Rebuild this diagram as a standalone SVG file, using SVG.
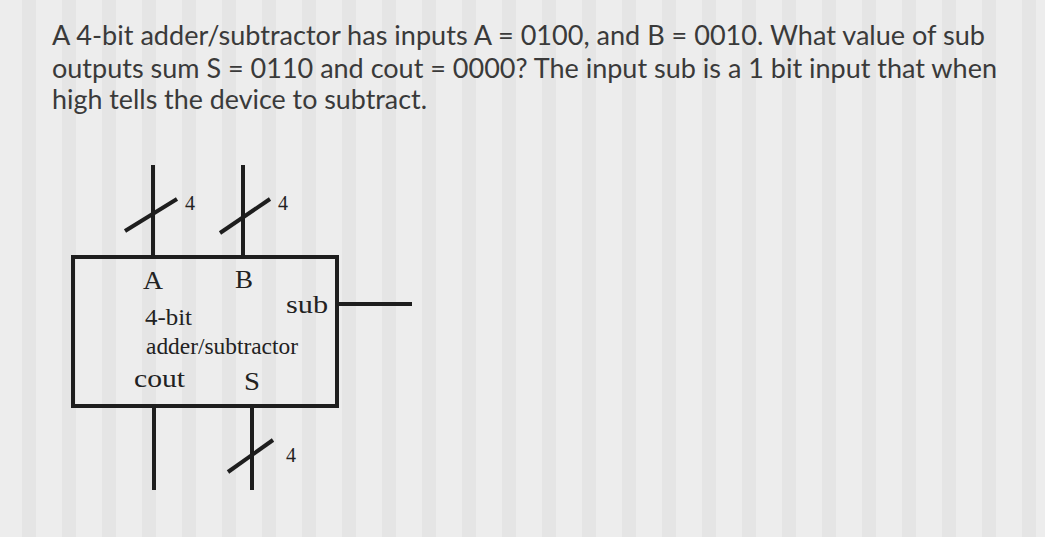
<svg xmlns="http://www.w3.org/2000/svg" width="1045" height="537" viewBox="0 0 1045 537">
<style>
.q{font-family:Lato,"Open Sans",sans-serif;font-size:26px;fill:#3a3a3a}
.t{font-family:"Liberation Serif",serif;fill:#222}
.w{stroke:#1e1e1e;stroke-width:4;fill:none}
</style>
<defs><pattern id="st" width="40" height="537" patternUnits="userSpaceOnUse"><rect width="40" height="537" fill="#ededed"/><rect x="22" width="14" height="537" fill="#e5e5e5"/></pattern></defs>
<rect width="1045" height="537" fill="url(#st)"/>
<text class="q" x="52" y="45" textLength="933" lengthAdjust="spacingAndGlyphs">A 4-bit adder/subtractor has inputs A = 0100, and B = 0010.  What value of sub</text>
<text class="q" x="52" y="78" textLength="945" lengthAdjust="spacingAndGlyphs">outputs sum S = 0110 and cout = 0000?  The input sub is a 1 bit input that when</text>
<text class="q" x="52" y="109" textLength="375" lengthAdjust="spacingAndGlyphs">high tells the device to subtract.</text>
<g id="adder">
<rect class="w" x="73" y="257" width="264" height="149" fill="#f0f0f0"/>
<text class="t" x="143" y="289" font-size="26" textLength="20" lengthAdjust="spacingAndGlyphs">A</text>
<text class="t" x="235" y="288" font-size="26" textLength="18" lengthAdjust="spacingAndGlyphs">B</text>
<text class="t" x="286" y="313" font-size="26" textLength="42" lengthAdjust="spacingAndGlyphs">sub</text>
<text class="t" x="145" y="325" font-size="23" textLength="47" lengthAdjust="spacingAndGlyphs">4-bit</text>
<text class="t" x="146" y="354" font-size="24" textLength="152" lengthAdjust="spacingAndGlyphs">adder/subtractor</text>
<text class="t" x="134" y="387" font-size="26" textLength="51" lengthAdjust="spacingAndGlyphs">cout</text>
<text class="t" x="244" y="390" font-size="26" textLength="16" lengthAdjust="spacingAndGlyphs">S</text>
</g>
<g id="connectors">
<line class="w" x1="153" y1="165" x2="153" y2="257"/>
<line class="w" x1="125" y1="231" x2="177" y2="199"/>
<line class="w" x1="243" y1="165" x2="243" y2="257"/>
<line class="w" x1="220" y1="233" x2="270" y2="199"/>
<line class="w" x1="337" y1="304" x2="412" y2="304"/>
<line class="w" x1="154" y1="406" x2="154" y2="490"/>
<line class="w" x1="252" y1="406" x2="252" y2="490"/>
<line class="w" x1="228" y1="472" x2="273" y2="440"/>
<text class="t" x="185" y="210" font-size="20">4</text>
<text class="t" x="278" y="210" font-size="20">4</text>
<text class="t" x="286" y="462" font-size="20">4</text>
</g>
</svg>
